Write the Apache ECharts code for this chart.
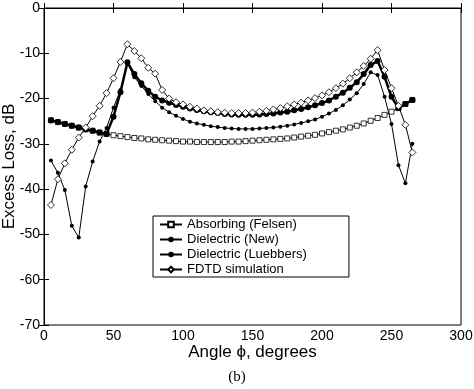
<!DOCTYPE html>
<html><head><meta charset="utf-8">
<script src="https://cdn.jsdelivr.net/npm/echarts@6/dist/echarts.min.js"></script>
<style>html,body{margin:0;padding:0;background:#fff}#c{width:474px;height:389px}</style>
</head><body><div id="c"></div>
<script>
var angles = [5,10,15,20,25,30,35,40,45,50,55,60,65,70,75,80,85,90,95,100,105,110,115,120,125,130,135,140,145,150,155,160,165,170,175,180,185,190,195,200,205,210,215,220,225,230,235,240,245,250,255,260,265];
var absorbing = [-24.8,-25.2,-25.6,-26.0,-26.4,-26.8,-27.1,-27.5,-27.8,-28.1,-28.3,-28.5,-28.7,-28.8,-29.0,-29.1,-29.2,-29.3,-29.4,-29.5,-29.5,-29.6,-29.6,-29.6,-29.6,-29.6,-29.5,-29.5,-29.4,-29.3,-29.2,-29.1,-29.0,-28.9,-28.8,-28.6,-28.4,-28.2,-28.0,-27.7,-27.4,-27.1,-26.8,-26.4,-26.0,-25.5,-24.9,-24.3,-23.6,-22.9,-22.1,-21.2,-20.3];
var dielectricNew = [-24.8,-25.2,-25.6,-26.0,-26.4,-26.8,-27.1,-27.5,-27.8,-24.0,-18.6,-12.0,-14.6,-16.6,-18.3,-19.6,-20.4,-20.9,-21.4,-21.8,-22.2,-22.5,-22.8,-23.0,-23.2,-23.4,-23.5,-23.6,-23.6,-23.6,-23.5,-23.4,-23.3,-23.1,-22.9,-22.6,-22.3,-21.9,-21.5,-21.0,-20.4,-19.6,-18.7,-17.6,-16.4,-14.6,-12.6,-11.7,-15.2,-19.6,-22.1,-21.2,-20.3];
var luebbers = [-33.7,-36.4,-40.2,-48.1,-50.7,-39.4,-33.9,-29.5,-26.5,-22.0,-18.1,-12.2,-15.3,-17.2,-19.0,-20.6,-22.0,-23.0,-23.8,-24.5,-25.1,-25.5,-25.8,-26.1,-26.3,-26.5,-26.6,-26.7,-26.7,-26.7,-26.6,-26.5,-26.4,-26.2,-26.0,-25.7,-25.4,-25.0,-24.6,-24.0,-23.3,-22.5,-21.5,-20.2,-18.8,-16.8,-14.2,-14.8,-19.6,-25.6,-34.7,-38.7,-30.0];
var fdtd = [-43.5,-37.8,-34.3,-31.3,-28.6,-26.4,-23.9,-21.6,-18.8,-15.5,-11.9,-8.0,-9.5,-11.1,-13.2,-14.5,-18.1,-20.0,-20.8,-21.3,-21.8,-22.2,-22.6,-22.8,-23.0,-23.1,-23.2,-23.2,-23.2,-23.1,-22.9,-22.7,-22.4,-22.1,-21.7,-21.3,-20.9,-20.4,-19.9,-19.3,-18.6,-17.7,-16.7,-15.5,-14.2,-12.8,-11.2,-9.3,-13.7,-17.7,-21.6,-25.8,-31.9];
var seriesNames = ['Absorbing (Felsen)','Dielectric (New)','Dielectric (Luebbers)','FDTD simulation'];
var xTitle = 'Angle \u03d5, degrees';
var yTitle = 'Excess Loss, dB';
var caption = '(b)';

function pairs(ys){ return angles.map(function(a,i){ return [a, ys[i]]; }); }
var font = 'Liberation Sans, Arial, Helvetica, sans-serif';
var chart = echarts.init(document.getElementById('c'));
var tickCommon = {show:true, inside:true, length:5, lineStyle:{color:'#000', width:1}};
chart.setOption({
  animation:false,
  backgroundColor:'#fff',
  title:{text:caption, left:'center', top:365, textStyle:{fontFamily:'Liberation Serif, Times New Roman, serif', fontSize:15, fontWeight:'normal', color:'#000'}},
  grid:{left:44, top:8, right:13, bottom:64, outerBoundsMode:'none', containLabel:false, show:true, borderColor:'#000', borderWidth:1, backgroundColor:'#fff'},
  legend:{
    data:seriesNames, orient:'vertical', left:153, top:216,
    backgroundColor:'#fff', borderColor:'#000', borderWidth:1, borderRadius:0,
    padding:[2,42,1,6], itemGap:2, itemWidth:22, itemHeight:7,
    textStyle:{fontFamily:font, fontSize:13, color:'#000', lineHeight:13}
  },
  xAxis:[{
    type:'value', min:0, max:300, interval:50, position:'bottom',
    name:xTitle, nameLocation:'middle', nameGap:19, nameMoveOverlap:false,
    nameTextStyle:{fontFamily:font, fontSize:17, color:'#000'},
    axisLine:{show:true, lineStyle:{color:'#000'}}, axisTick:tickCommon,
    axisLabel:{fontFamily:font, fontSize:14, color:'#000', margin:4},
    splitLine:{show:false}
  },{
    type:'value', min:0, max:300, interval:50, position:'top',
    axisLine:{show:true, lineStyle:{color:'#000'}}, axisTick:tickCommon,
    axisLabel:{show:false}, splitLine:{show:false}
  }],
  yAxis:[{
    type:'value', min:-70, max:0, interval:10, position:'left',
    name:yTitle, nameLocation:'middle', nameGap:26, nameRotate:90, nameMoveOverlap:false,
    nameTextStyle:{fontFamily:font, fontSize:17, color:'#000'},
    axisLine:{show:true, lineStyle:{color:'#000'}}, axisTick:tickCommon,
    axisLabel:{fontFamily:font, fontSize:14, color:'#000', margin:4},
    splitLine:{show:false}
  },{
    type:'value', min:-70, max:0, interval:10, position:'right',
    axisLine:{show:true, lineStyle:{color:'#000'}}, axisTick:tickCommon,
    axisLabel:{show:false}, splitLine:{show:false}
  }],
  series:[
    {name:seriesNames[0], type:'line', data:pairs(absorbing), symbol:'rect', symbolSize:5, showAllSymbol:true,
     lineStyle:{color:'#000', width:1}, itemStyle:{color:'#fff', borderColor:'#000', borderWidth:0.8}, z:2},
    {name:seriesNames[1], type:'line', data:pairs(dielectricNew), symbol:'circle', symbolSize:6, showAllSymbol:true,
     lineStyle:{color:'#000', width:2.5}, itemStyle:{color:'#000', borderColor:'#000', borderWidth:0}, z:3},
    {name:seriesNames[2], type:'line', data:pairs(luebbers), symbol:'circle', symbolSize:4, showAllSymbol:true,
     lineStyle:{color:'#000', width:1}, itemStyle:{color:'#000', borderColor:'#000', borderWidth:0}, z:4},
    {name:seriesNames[3], type:'line', data:pairs(fdtd), symbol:'diamond', symbolSize:7, showAllSymbol:true,
     lineStyle:{color:'#000', width:1}, itemStyle:{color:'#fff', borderColor:'#000', borderWidth:0.8}, z:5}
  ]
});
</script></body></html>
